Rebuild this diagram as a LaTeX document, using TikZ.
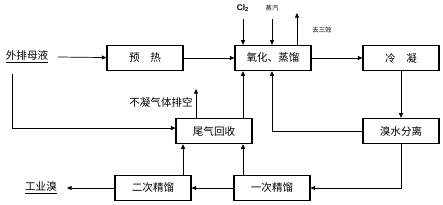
\documentclass[tikz,border=0pt]{standalone}
\usepackage{fontspec}
\setmainfont{Liberation Sans}
\newfontfamily\cjk{Noto Sans CJK SC}
\usetikzlibrary{arrows.meta}

\begin{document}
\begin{tikzpicture}[x=0.03cm, y=-0.03cm, line width=0.6pt,
  >={Triangle[length=4pt,width=3.5pt]},
  every node/.style={font=\cjk\fontsize{9}{10}\selectfont, inner sep=0pt},
  box/.style={draw, line width=0.9pt, minimum width=2.28cm, minimum height=0.76cm},
  small/.style={font=\cjk\fontsize{5.5}{6}\selectfont}]
  \useasboundingbox (0,0) rectangle (443,205);
  % Boxes
  \node[box] (yure) at (145,58) {预\quad 热};
  \node[box] (yanghua) at (273,58) {氧化、蒸馏};
  \node[box] (lengning) at (401,58) {冷\quad 凝};
  \node[box] (weiqi) at (214,131) {尾气回收};
  \node[box] (xiushui) at (401,131) {溴水分离};
  \node[box] (erci) at (153,188) {二次精馏};
  \node[box] (yici) at (272,188) {一次精馏};
  % Labels
  \node (muye) at (27,57) {\underline{外排母液}};
  \node (gongye) at (41,188) {\underline{工业溴}};
  \node (paikong) at (161,102) {不凝气体排空};
  \node (cl) at (243,8) {\fontspec{Liberation Sans}\fontsize{7}{8}\selectfont\bfseries Cl\textsubscript{2}};
  \node[small] (zhengqi) at (272,8) {蒸汽};
  \node[small] (sanxiao) at (322,30) {去三效};
  \coordinate (c1) at (12,74);
  \coordinate (c2) at (243,19);
  \coordinate (c3) at (272,19);
  \coordinate (c4) at (297,13);
  \coordinate (c5) at (196,89);
  \coordinate (c6) at (58,57);
  \coordinate (c7) at (67,188);
  \coordinate (c8) at (183,160);
  % Flows
  \draw[->] (c6) -- (yure);
  \draw[->] (yure) -- (yanghua);
  \draw[->] (yanghua) -- (lengning);
  \draw[->] (c2) -- (c2 |- yanghua.north);
  \draw[->] (c3) -- (c3 |- yanghua.north);
  \draw[->] (c4 |- yanghua.north) -- (c4);
  \draw[->] (lengning) -- (xiushui);
  \draw[->] (c1) |- ([yshift=2.5pt]weiqi.west);
  \draw[->] (c5 |- weiqi.north) -- (c5);
  \draw[->] (c2 |- weiqi.north) -- (c2 |- yanghua.south);
  \draw[->] (xiushui.west) -| (c3 |- yanghua.south);
  \draw[->] (xiushui.south) |- (yici.east);
  \draw[->] (yici) -- (erci);
  \draw[->] (erci) -- (c7);
  \draw[->] (c2 |- yici.north) -- (c2 |- weiqi.south);
  \draw[->] (c8 |- erci.north) -- (c8 |- weiqi.south);
\end{tikzpicture}
\end{document}
